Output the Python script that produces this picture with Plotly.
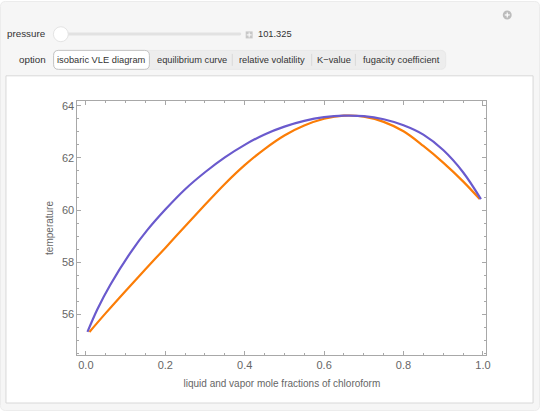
#!/usr/bin/env python3
# -*- coding: utf-8 -*-
import plotly.graph_objects as go

W, H = 544, 411

# vapor curve (upper)
vapor_x = [0.004, 0.029, 0.062, 0.116, 0.154, 0.2, 0.25, 0.3, 0.35, 0.4, 0.45, 0.5, 0.55, 0.6, 0.65, 0.7,
           0.75, 0.8, 0.85, 0.9, 0.95, 0.995]
vapor_t = [55.33, 56.2, 57.15, 58.45, 59.22, 60.02, 60.8, 61.45, 62.02, 62.5, 62.9, 63.2, 63.42, 63.56, 63.62, 63.6,
           63.48, 63.25, 62.89, 62.3, 61.45, 60.42]
# liquid curve (lower)
liquid_x = [0.009, 0.05, 0.1, 0.15, 0.2, 0.25, 0.3, 0.35, 0.4, 0.45, 0.5, 0.55, 0.6, 0.65, 0.7, 0.75, 0.8, 0.85,
            0.9, 0.95, 0.992]
liquid_t = [55.33, 56.05, 56.9, 57.73, 58.55, 59.38, 60.2, 61.0, 61.72, 62.34, 62.86, 63.24, 63.5, 63.62, 63.58,
            63.38, 63.02, 62.46, 61.82, 61.1, 60.42]

x_ticks = [0.0, 0.2, 0.4, 0.6, 0.8, 1.0]
y_ticks = [56, 58, 60, 62, 64]

option_labels = ["isobaric VLE diagram", "equilibrium curve", "relative volatility", "K\u2212value", "fugacity coefficient"]
option_centers = [102.5, 193.4, 274.4, 336, 404]
option_separators = [234, 314, 358]

FONT = "Liberation Sans"
AXIS_GRAY = "#a8a8a8"
LABEL_GRAY = "#666666"


def px(x):
    return x / W


def py(y):
    return 1 - y / H


def rounded(x0, y0, x1, y1, r, fill, line="rgba(0,0,0,0)"):
    x0, x1 = px(x0), px(x1)
    y0, y1 = py(y0), py(y1)
    rx, ry = r / W, r / H
    path = (f"M {x0 + rx} {y0} L {x1 - rx} {y0} Q {x1} {y0} {x1} {y0 - ry} L {x1} {y1 + ry} "
            f"Q {x1} {y1} {x1 - rx} {y1} L {x0 + rx} {y1} Q {x0} {y1} {x0} {y1 + ry} "
            f"L {x0} {y0 - ry} Q {x0} {y0} {x0 + rx} {y0} Z")
    return dict(type="path", xref="paper", yref="paper", path=path, fillcolor=fill,
                line=dict(color=line, width=1), layer="below")


def circle(cx, cy, r, fill, line="rgba(0,0,0,0)"):
    return dict(type="circle", xref="paper", yref="paper", x0=px(cx - r), x1=px(cx + r),
                y0=py(cy + r), y1=py(cy - r), fillcolor=fill, line=dict(color=line, width=1), layer="below")


def seg(x0, y0, x1, y1, color, width=1):
    return dict(type="line", xref="paper", yref="paper", x0=px(x0), x1=px(x1), y0=py(y0), y1=py(y1),
                line=dict(color=color, width=width), layer="below")


def label(text, x, y, anchor="center", size=9.3, color="#333333"):
    return dict(text=text, x=px(x), y=py(y), xref="paper", yref="paper", xanchor=anchor, yanchor="middle",
                showarrow=False, font=dict(family=FONT, size=size, color=color))


shapes = [
    rounded(0.5, 0.5, 543.5, 410.5, 5, "#f6f6f6", "#ececec"),
    dict(type="rect", xref="paper", yref="paper", x0=px(6), x1=px(537), y0=py(403), y1=py(75),
         fillcolor="#ffffff", line=dict(color="#d8d8d8", width=1), layer="below"),
    # pressure slider
    rounded(54, 31.5, 243, 34.5, 1.5, "#e2e2e2"),
    circle(61.3, 33.3, 7.5, "#ffffff", "#e4e4e4"),
    dict(type="rect", xref="paper", yref="paper", x0=px(247.5), x1=px(254.5), y0=py(37.5), y1=py(30.5),
         fillcolor="#c8c8c8", line=dict(width=0), layer="below"),
    seg(251, 31.5, 251, 36.5, "#ffffff"),
    seg(248.5, 34, 253.5, 34, "#ffffff"),
    # option buttons
    rounded(54, 49.5, 449, 68.5, 5, "#ededed", "#e8e8e8"),
    rounded(54, 49.5, 150.5, 68.5, 5, "#ffffff", "#c4c4c4"),
    # corner plus
    circle(511, 14, 4.5, "#bcbcbc"),
    seg(508.5, 14, 513.5, 14, "#ffffff", 1.2),
    seg(511, 11.5, 511, 16.5, "#ffffff", 1.2),
]
for sep in option_separators:
    shapes.append(seg(sep, 53, sep, 65, "#d8d8d8"))

annotations = [
    label("pressure", 48, 33, "right", size=9.8),
    label("101.325", 258.3, 33, "left"),
    label("option", 48, 58.5, "right", size=9.8),
]
for text, center in zip(option_labels, option_centers):
    annotations.append(label(text, center, 59.5))

fig = go.Figure()
fig.add_trace(go.Scatter(x=liquid_x, y=liquid_t, mode="lines",
                         line=dict(color="#fb7d07", width=2.2, shape="spline", smoothing=1.0)))
fig.add_trace(go.Scatter(x=vapor_x, y=vapor_t, mode="lines",
                         line=dict(color="#6a5acd", width=2.2, shape="spline", smoothing=1.0)))

axis_style = dict(showgrid=False, zeroline=False, showline=True, mirror="ticks", linecolor=AXIS_GRAY,
                  linewidth=1, ticks="inside", ticklen=4, tickwidth=1, tickcolor=AXIS_GRAY,
                  tickfont=dict(family=FONT, size=11, color=LABEL_GRAY))
fig.update_xaxes(domain=[px(78), px(490)], range=[-0.0213, 1.0088], tickvals=x_ticks, tickformat=".1f",
                 minor=dict(dtick=0.05, tick0=0, ticks="inside", ticklen=2, tickcolor=AXIS_GRAY, showgrid=False),
                 title=dict(text="liquid and vapor mole fractions of chloroform", standoff=9,
                            font=dict(family=FONT, size=10, color=LABEL_GRAY)), **axis_style)
fig.update_yaxes(domain=[py(355), py(100)], range=[54.44, 64.19], tickvals=y_ticks,
                 minor=dict(dtick=0.5, tick0=54, ticks="inside", ticklen=2, tickcolor=AXIS_GRAY, showgrid=False),
                 title=dict(text="temperature", standoff=6,
                            font=dict(family=FONT, size=10, color=LABEL_GRAY)), **axis_style)
fig.update_layout(width=W, height=H, margin=dict(l=0, r=0, t=0, b=0), showlegend=False,
                  paper_bgcolor="#ffffff", plot_bgcolor="rgba(0,0,0,0)", shapes=shapes, annotations=annotations)
fig.write_html("out.html", config=dict(displayModeBar=False),
               post_script="document.body.style.margin='0';document.body.style.overflow='hidden';")
